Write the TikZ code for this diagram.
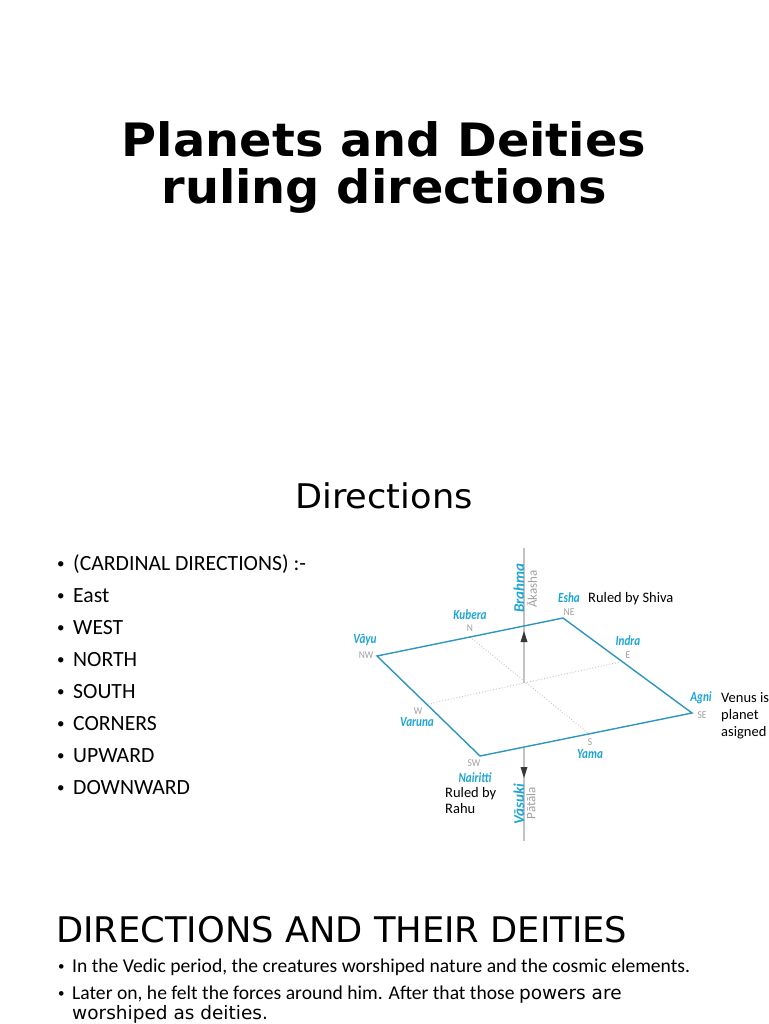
\documentclass[tikz,border=0pt]{standalone}
\usepackage{fontspec}
\setmainfont{Carlito}
\newfontfamily\dejavu{DejaVu Sans}
\newfontfamily\carl{Carlito}
\usetikzlibrary{arrows.meta}
\definecolor{lineblue}{RGB}{45,150,190}
\definecolor{textblue}{RGB}{30,165,215}
\definecolor{lblgray}{RGB}{160,160,160}
\definecolor{axisgray}{RGB}{195,195,195}
\definecolor{tipgray}{RGB}{55,55,55}
\definecolor{dotgray}{RGB}{195,195,195}
\newcommand{\bigbul}{\makebox[16pt][l]{\fontsize{15}{15}\selectfont\raisebox{1.5pt}{•}}}
\newcommand{\smlbul}{\makebox[14pt][l]{\fontsize{13}{13}\selectfont\raisebox{1.5pt}{•}}}
\newcommand{\hx}[1]{\scalebox{0.8}[1]{#1}}
\newcommand{\gx}[1]{\scalebox{0.9}[1]{#1}}
\begin{document}
\begin{tikzpicture}[x=1pt,y=-1pt,
  title/.style={anchor=base,inner sep=0pt,font=\dejavu\bfseries\fontsize{46}{46}\selectfont},
  head/.style={anchor=base,inner sep=0pt,font=\dejavu\fontsize{34}{34}\selectfont},
  blt/.style={anchor=base west,inner sep=0pt,font=\carl\fontsize{21.7}{21.7}\selectfont},
  sblt/.style={anchor=base west,inner sep=0pt,font=\carl\fontsize{19.6}{19.6}\selectfont},
  deity/.style={inner sep=0pt,text=textblue,font=\carl\bfseries\itshape\fontsize{14}{14}\selectfont},
  vdeity/.style={inner sep=0pt,text=textblue,rotate=90,font=\carl\bfseries\itshape\fontsize{15}{15}\selectfont},
  dir/.style={inner sep=0pt,text=lblgray,font=\carl\fontsize{10.5}{10.5}\selectfont},
  vdir/.style={inner sep=0pt,text=lblgray,rotate=90,font=\carl\fontsize{13}{13}\selectfont},
  note/.style={anchor=base west,inner sep=0pt,font=\carl\fontsize{14.5}{14.5}\selectfont},
  edge/.style={draw=lineblue,line width=1.4pt,line join=miter},
  dotl/.style={draw=dotgray,line width=0.9pt,dotted},
  axis/.style={draw=axisgray,line width=1.2pt},
  tip/.style={fill=tipgray}]
\useasboundingbox (0,0) rectangle (768,1024);
\fill[white] (0,0) rectangle (768,1024);

% Title
\node[title] (t1) at (384,157) {\scalebox{1.04}[1]{Planets and Deities}};
\node[title] (t2) at (384,204) {\scalebox{1.04}[1]{ruling directions}};

% Section heading
\node[head] (h1) at (384,508) {\scalebox{1.035}[1]{Directions}};

% Bullets
\node[blt] (b1) at (57,570) {\bigbul(CARDINAL DIRECTIONS) :-};
\node[blt] (b2) at (57,602) {\bigbul East};
\node[blt] (b3) at (57,634) {\bigbul WEST};
\node[blt] (b4) at (57,666) {\bigbul NORTH};
\node[blt] (b5) at (57,698) {\bigbul SOUTH};
\node[blt] (b6) at (57,730) {\bigbul CORNERS};
\node[blt] (b7) at (57,762) {\bigbul UPWARD};
\node[blt] (b8) at (57,794) {\bigbul DOWNWARD};

% Diagram geometry
\coordinate (NW) at (377,656);
\coordinate (NE) at (563,618);
\coordinate (SE) at (692,713);
\coordinate (SW) at (480,756);
\coordinate (C) at (524,683);
\coordinate (Nm) at (470,637);
\coordinate (Sm) at (588,733);
\coordinate (Wm) at (428,704);
\coordinate (Em) at (620,662);
\coordinate (top) at (524,548);
\coordinate (bot) at (524,841);
\coordinate (bedge) at (524,747);

% dotted centre lines
\draw[dotl] (Nm) -- (Sm);
\draw[dotl] (Wm) -- (Em);

% vertical axis
\draw[axis] (C) -- (top);
\draw[axis] (bedge) -- (bot);
\fill[tip] (524,631) -- (520.5,642) -- (527.5,642) -- cycle;
\fill[tip] (524,778) -- (520.5,767) -- (527.5,767) -- cycle;

% square
\draw[edge] (NW) -- (NE) -- (SE) -- (SW) -- cycle;

% labels
\node[vdeity] (brahma) at (519,588) {Brahma};
\node[vdir] (akasha) at (532,589) {Ākasha};
\node[deity] (esha) at (569,598) {\hx{Esha}};
\node[dir] (ne) at (569,612) {\gx{NE}};
\node[deity] (kubera) at (470,615) {\hx{Kubera}};
\node[dir] (n) at (470,628) {\gx{N}};
\node[deity] (vayu) at (365,640) {\hx{Vāyu}};
\node[dir] (nw) at (366,655) {\gx{NW}};
\node[deity] (indra) at (628,641) {\hx{Indra}};
\node[dir] (e) at (628,655) {\gx{E}};
\node[deity] (agni) at (701,698) {\hx{Agni}};
\node[dir] (se) at (702,715) {\gx{SE}};
\node[dir] (w) at (418,711) {\gx{W}};
\node[deity] (varuna) at (417,722) {\hx{Varuna}};
\node[dir] (s) at (590,742) {\gx{S}};
\node[deity] (yama) at (590,754) {\hx{Yama}};
\node[dir] (sw) at (474,763) {\gx{SW}};
\node[deity] (nairitti) at (475,778) {\hx{Nairitti}};
\node[vdeity] (vasuki) at (519,804) {Vāsuki};
\node[vdir] (patala) at (531,803) {Pātāla};

% notes
\node[note] (shiva) at (588,602) {Ruled by Shiva};
\node[note] (rahu1) at (445,797) {Ruled by};
\node[note] (rahu2) at (445,813) {Rahu};
\node[note] (venus1) at (721,702) {Venus is};
\node[note] (venus2) at (721,719) {planet};
\node[note] (venus3) at (721,736) {asigned};

% second heading
\node[head,anchor=base west,font=\dejavu\fontsize{35.3}{35.3}\selectfont] (h2) at (56,942) {DIRECTIONS AND THEIR DEITIES};

% bottom bullets
\node[sblt] (c1) at (58,972) {\smlbul In the Vedic period, the creatures worshiped nature and the cosmic elements.};
\node[sblt] (c2) at (58,999) {\smlbul Later on, he felt the forces around him. After that those {\dejavu\fontsize{18.5}{18.5}\selectfont powers are}};
\node[sblt,font=\dejavu\fontsize{18.5}{18.5}\selectfont] (c3) at (72,1019) {worshiped as deities.};
\end{tikzpicture}
\end{document}
